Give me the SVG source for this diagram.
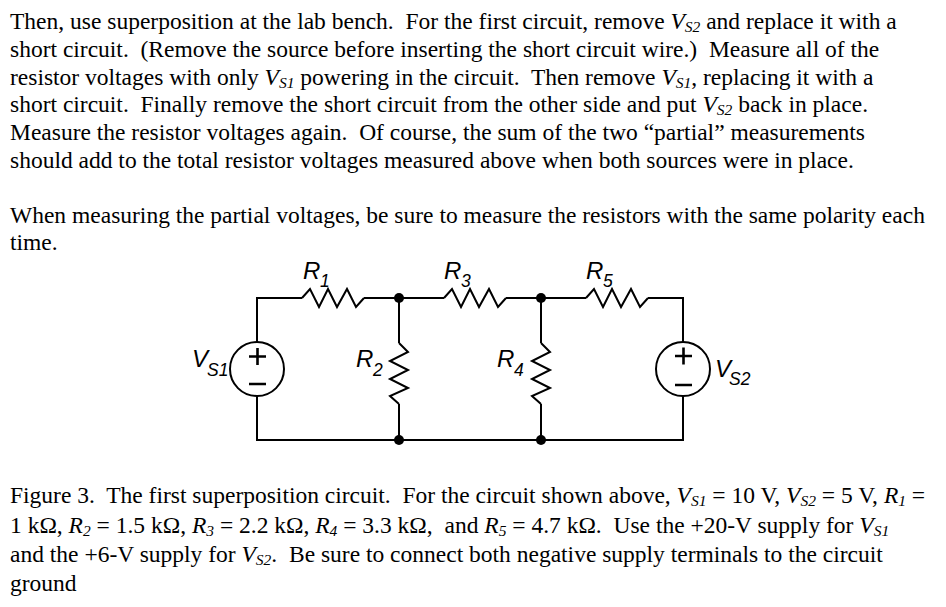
<svg xmlns="http://www.w3.org/2000/svg" width="946" height="607" viewBox="0 0 946 607">
<style>
.t{font-family:"Liberation Serif","Times New Roman",serif;font-size:23.5px;fill:#000;white-space:pre}
.i{font-style:italic}
.s{font-style:italic;font-size:15.5px}
.l{font-family:"Liberation Sans",Arial,sans-serif;font-style:italic;font-size:24px;fill:#000}
.b{font-family:"Liberation Sans",Arial,sans-serif;font-style:italic;font-size:17.5px;fill:#000}
.w{fill:none;stroke:#000;stroke-width:2;stroke-linejoin:miter}
.c{fill:#fff;stroke:#000;stroke-width:2}
.p{fill:none;stroke:#000;stroke-width:2.6}
.d{fill:#000}
</style>
<rect width="946" height="607" fill="#fff"/>
<g id="text-top">
<text class="t" x="10" y="29">Then, use superposition at the lab bench.  For the first circuit, remove <tspan class="i">V</tspan><tspan class="s" dy="3">S2</tspan><tspan dy="-3"> and replace it with a</tspan></text>
<text class="t" x="10" y="57">short circuit.  (Remove the source before inserting the short circuit wire.)  Measure all of the</text>
<text class="t" x="10" y="85">resistor voltages with only <tspan class="i">V</tspan><tspan class="s" dy="3">S1</tspan><tspan dy="-3"> powering in the circuit.  Then remove </tspan><tspan class="i">V</tspan><tspan class="s" dy="3">S1</tspan><tspan dy="-3">, replacing it with a</tspan></text>
<text class="t" x="10" y="112">short circuit.  Finally remove the short circuit from the other side and put <tspan class="i">V</tspan><tspan class="s" dy="3">S2</tspan><tspan dy="-3"> back in place.</tspan></text>
<text class="t" x="10" y="140">Measure the resistor voltages again.  Of course, the sum of the two “partial” measurements</text>
<text class="t" x="10" y="168">should add to the total resistor voltages measured above when both sources were in place.</text>
<text class="t" x="10" y="223">When measuring the partial voltages, be sure to measure the resistors with the same polarity each</text>
<text class="t" x="10" y="250">time.</text>
</g>
<g id="connectors">
<path class="w" d="M257 342V298H302M364 298H444M506 298H586M648 298H683V342M257 396V440H683V396M399 298V343M399 404V440M541 298V343M541 404V440"/>
</g>
<g id="R1"><path class="w" d="M302 298L310 289L319 307L328 289L337 307L347 289L356 307L364 298"/><text class="l" x="303" y="279">R</text><text class="b" x="320" y="287">1</text></g>
<g id="R3"><path class="w" d="M444 298L452 289L461 307L470 289L479 307L489 289L498 307L506 298"/><text class="l" x="444" y="279">R</text><text class="b" x="461" y="287">3</text></g>
<g id="R5"><path class="w" d="M586 298L594 289L603 307L612 289L621 307L631 289L640 307L648 298"/><text class="l" x="586" y="279">R</text><text class="b" x="603" y="287">5</text></g>
<g id="R2"><path class="w" d="M399 343L408 352L390 361L408 370L390 379L408 388L390 396L399 404"/><text class="l" x="356" y="367">R</text><text class="b" x="373" y="376">2</text></g>
<g id="R4"><path class="w" d="M541 343L550 352L532 361L550 370L532 379L550 388L532 396L541 404"/><text class="l" x="497" y="367">R</text><text class="b" x="514" y="376">4</text></g>
<g id="VS1"><circle class="c" cx="257" cy="369" r="27"/><path class="p" d="M249 356.500H266M257.500 348V365M249 384H266"/><text class="l" x="192" y="367">V</text><text class="b" x="207" y="376">S1</text></g>
<g id="VS2"><circle class="c" cx="683" cy="369" r="27"/><path class="p" d="M675 356H692M683.500 347.500V364.500M675 385H692"/><text class="l" x="715" y="377">V</text><text class="b" x="729" y="385">S2</text></g>
<g id="nodes"><circle class="d" cx="399" cy="298" r="5"/><circle class="d" cx="541" cy="298" r="5"/><circle class="d" cx="399" cy="440" r="5"/><circle class="d" cx="541" cy="440" r="5"/></g>
<g id="text-bottom">
<text class="t" x="10" y="503">Figure 3.  The first superposition circuit.  For the circuit shown above, <tspan class="i">V</tspan><tspan class="s" dy="3">S1</tspan><tspan dy="-3"> = 10 V, </tspan><tspan class="i">V</tspan><tspan class="s" dy="3">S2</tspan><tspan dy="-3"> = 5 V, </tspan><tspan class="i">R</tspan><tspan class="s" dy="3">1</tspan><tspan dy="-3"> =</tspan></text>
<text class="t" x="10" y="533">1 kΩ, <tspan class="i">R</tspan><tspan class="s" dy="3">2</tspan><tspan dy="-3"> = 1.5 kΩ, </tspan><tspan class="i">R</tspan><tspan class="s" dy="3">3</tspan><tspan dy="-3"> = 2.2 kΩ, </tspan><tspan class="i">R</tspan><tspan class="s" dy="3">4</tspan><tspan dy="-3"> = 3.3 kΩ,  and </tspan><tspan class="i">R</tspan><tspan class="s" dy="3">5</tspan><tspan dy="-3"> = 4.7 kΩ.  Use the +20-V supply for </tspan><tspan class="i">V</tspan><tspan class="s" dy="3">S1</tspan></text>
<text class="t" x="10" y="562">and the +6-V supply for <tspan class="i">V</tspan><tspan class="s" dy="3">S2</tspan><tspan dy="-3">.  Be sure to connect both negative supply terminals to the circuit</tspan></text>
<text class="t" x="10" y="591">ground</text>
</g>
</svg>
